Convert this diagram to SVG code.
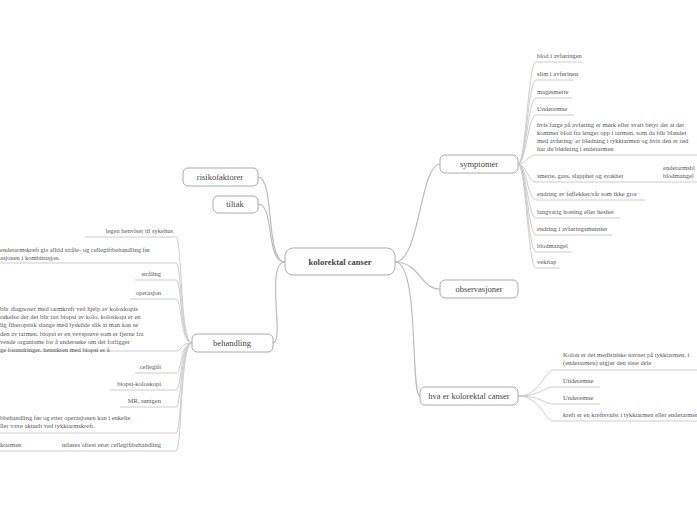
<svg xmlns="http://www.w3.org/2000/svg" width="697" height="520" viewBox="0 0 697 520">
<style>
text{font-family:"Liberation Serif",serif;fill:#555;font-size:6.5px}
.main rect{fill:#fff;stroke:#aaa;stroke-width:1}
.main text{font-size:8.5px;fill:#444;text-anchor:middle}
.c path{fill:none;stroke:#bbb;stroke-width:1.2}
.l path{fill:none;stroke:#ccc;stroke-width:1}
.r{text-anchor:end}
</style>
<rect width="697" height="520" fill="#fff"/>
<g class="c">
<path d="M395,262 C420,262 420,164 440,164"/>
<path d="M395,262 C420,262 420,289 440,289"/>
<path d="M395,262 C420,262 410,396 420,396"/>
<path d="M285,262 C265,262 275,177 258,177"/>
<path d="M285,262 C265,262 275,204 258,204"/>
<path d="M285,262 C265,262 285,343 273,343"/>
</g>
<g class="l">
<path d="M518,164 C526,164 528,62 536,62 H582"/>
<path d="M518,164 C526,164 528,80 536,80 H574"/>
<path d="M518,164 C526,164 528,98 536,98 H572"/>
<path d="M518,164 C526,164 528,115 536,115 H574"/>
<path d="M518,164 C526,164 528,155 536,155 H697"/>
<path d="M518,164 C526,164 528,182 536,182 H697"/>
<path d="M518,164 C526,164 528,200 536,200 H645"/>
<path d="M518,164 C526,164 528,218 536,218 H620"/>
<path d="M518,164 C526,164 528,235 536,235 H612"/>
<path d="M518,164 C526,164 528,252 536,252 H572"/>
<path d="M518,164 C526,164 528,268 536,268 H560"/>
<path d="M518,396 C540,396 545,370 553,370 H697"/>
<path d="M518,396 C540,396 545,387 553,387 H600"/>
<path d="M518,396 C540,396 545,404 553,404 H600"/>
<path d="M518,396 C540,396 545,421 553,421 H697"/>
<path d="M192,343 C180,343 182,237 176,237 H85"/>
<path d="M192,343 C180,343 182,263 176,263 H0"/>
<path d="M192,343 C180,343 182,280 176,280 H135"/>
<path d="M192,343 C180,343 182,299 176,299 H130"/>
<path d="M192,343 C180,343 182,351 176,351 H0"/>
<path d="M192,343 C180,343 182,373 176,373 H135"/>
<path d="M192,343 C180,343 182,390 176,390 H110"/>
<path d="M192,343 C180,343 182,407 176,407 H120"/>
<path d="M192,343 C180,343 182,433 176,433 H0"/>
<path d="M192,343 C180,343 182,451 176,451 H0"/>
</g>
<g id="center" class="main"><rect x="285" y="248" width="110" height="27" rx="8" stroke-width="1.5"/><text x="340" y="265" font-weight="bold" font-size="9.5px">kolorektal canser</text></g>
<g id="risikofaktorer" class="main"><rect x="183" y="168" width="75" height="18" rx="5"/><text x="220" y="180">risikofaktorer</text></g>
<g id="tiltak" class="main"><rect x="213" y="196" width="45" height="17" rx="5"/><text x="235" y="207">tiltak</text></g>
<g id="behandling" class="main"><rect x="192" y="334" width="81" height="18" rx="5"/><text x="232" y="346">behandling</text></g>
<g id="symptomer" class="main"><rect x="440" y="155" width="78" height="18" rx="5"/><text x="479" y="167">symptomer</text></g>
<g id="observasjoner" class="main"><rect x="440" y="280" width="78" height="18" rx="5"/><text x="479" y="292">observasjoner</text></g>
<g id="hva" class="main"><rect x="420" y="387" width="98" height="18" rx="5"/><text x="469" y="399">hva er kolorektal canser</text></g>
<g id="sym-leaves">
<text x="537" y="58">blod i avføringen</text>
<text x="537" y="76">slim i avførinen</text>
<text x="537" y="94">magesmerte</text>
<text x="537" y="111">Underemne</text>
<text x="537" y="127">hvis farge på avføring er mørk eller svart betyr det at det</text>
<text x="537" y="135">kommer blod fra lenger opp i tarmen, som da blir blandet</text>
<text x="537" y="143">med avføring/ er blødning i tykktarmen og hvis den er rød</text>
<text x="537" y="151">har du blødning i endetarmen</text>
<text x="537" y="178">smerte, gass, slapphet og svakhet</text>
<text x="663" y="170">endetarmsbl</text>
<text x="663" y="178">blodmangel</text>
<text x="537" y="196">endring av føflekker/sår som ikke gror</text>
<text x="537" y="214">langvarig hosting eller heshet</text>
<text x="537" y="231">endring i avføringsmønster</text>
<text x="537" y="248">blodmangel</text>
<text x="537" y="264">vekttap</text>
</g>
<g id="hva-leaves">
<text x="563" y="357">Kolon er det medisinske navnet på tykktarmen, i</text>
<text x="563" y="365">(endetarmen) utgjør den siste dele</text>
<text x="563" y="383">Underemne</text>
<text x="563" y="400">Underemne</text>
<text x="563" y="417">kreft er en kreftsvulst i tykktarmen eller endetarmen</text>
</g>
<g id="beh-leaves">
<text class="r" x="173" y="233">legen henviser til sykehus</text>
<text x="0" y="252">endetarmskreft gis alltid stråle- og cellegiftbehandling før</text>
<text x="0" y="260">asjonen i kombinasjon.</text>
<text class="r" x="161" y="276">stråling</text>
<text class="r" x="161" y="295">operasjon</text>
<text x="0" y="311">blir diagnoser med tarmkreft ved hjelp av koloskopis</text>
<text x="0" y="319">røkelse der det blir tatt biopsi av kolo. koloskopi er en</text>
<text x="0" y="327">lig fiberoptisk slange med lyskilde slik at man kan se</text>
<text x="0" y="336">den av tarmen. biopsi er en vevsprøve som er fjerne fra</text>
<text x="0" y="344">vende organisme for å undersøke om det forligger</text>
<text x="0" y="352">ge forandringer. hensikten med biopsi er å</text>
<text class="r" x="161" y="369">cellegift</text>
<text class="r" x="161" y="386">biopsi-koloskopi</text>
<text class="r" x="161" y="403">MR, røntgen</text>
<text x="0" y="420">bbehandling før og etter operasjonen kan i enkelte</text>
<text x="0" y="428">ller være aktuelt ved tykktarmskreft.</text>
<text x="0" y="447">ktarmen</text>
<text class="r" x="161" y="447">utføres oftest etter cellegiftbehandling</text>
</g>
</svg>
